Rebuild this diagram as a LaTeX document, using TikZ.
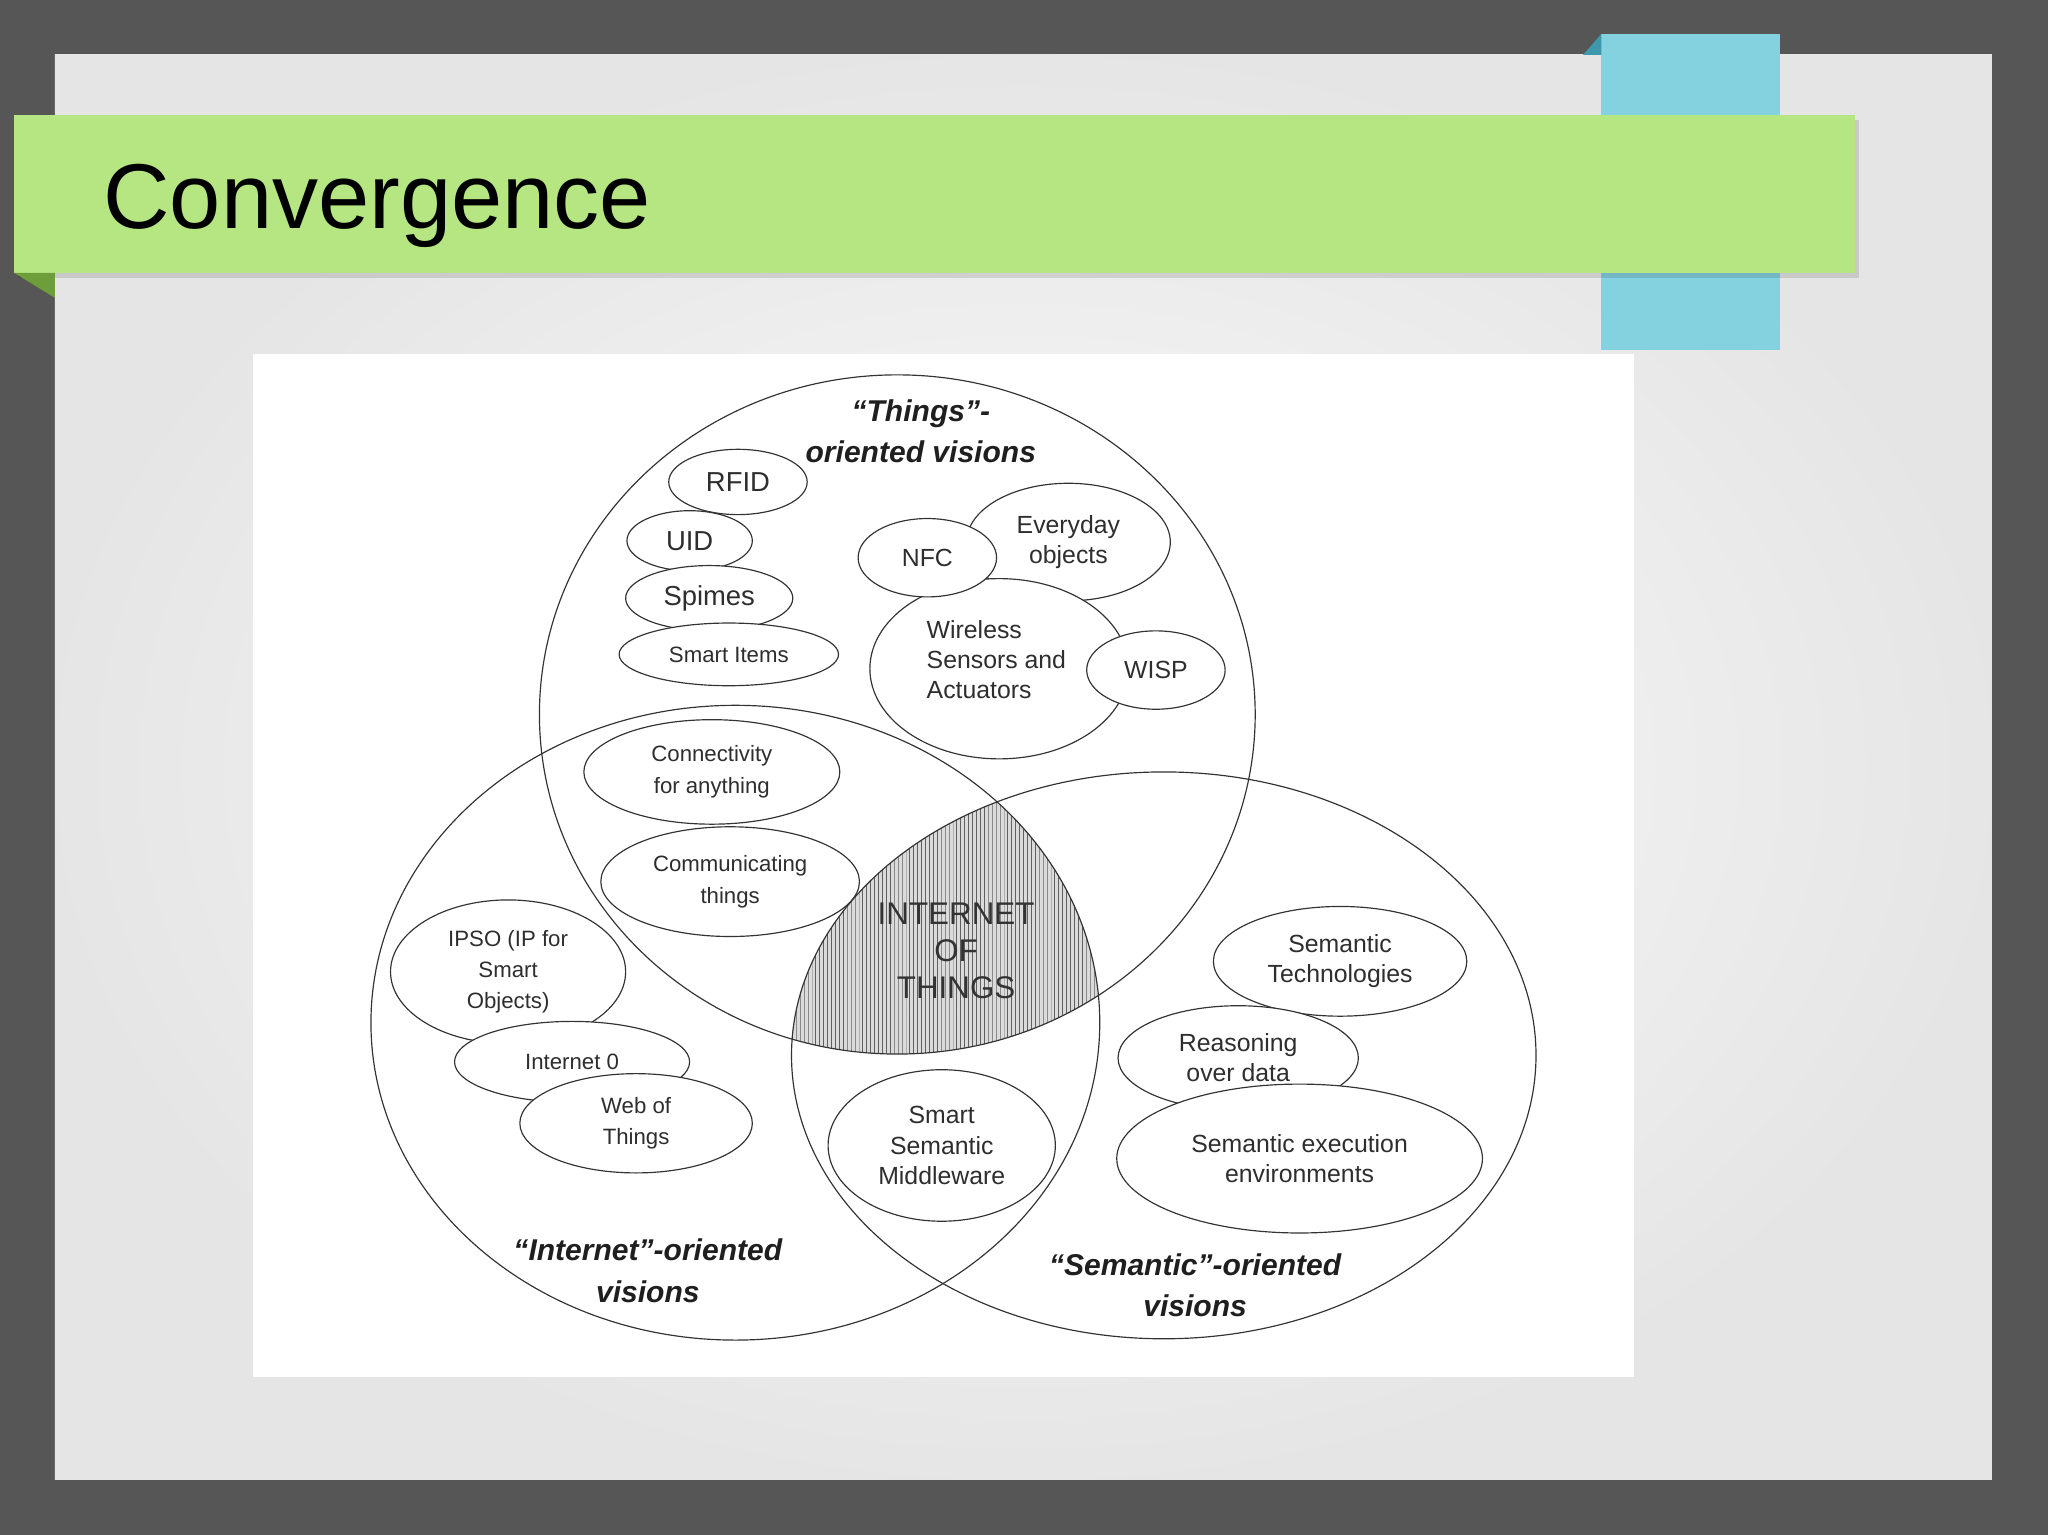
\documentclass[tikz,border=0pt]{standalone}
\usepackage{fontspec}
\setmainfont{Liberation Sans}
\usetikzlibrary{shapes.geometric,patterns}
\definecolor{bgdark}{HTML}{565656}
\definecolor{bannergreen}{HTML}{B5E681}
\definecolor{tabblue}{HTML}{84D1E0}
\definecolor{foldgreen}{HTML}{6E9E3A}
\definecolor{foldblue}{HTML}{3C98AA}
\definecolor{lineink}{HTML}{333333}
\definecolor{textink}{HTML}{2E2E2E}
\begin{document}
\begin{tikzpicture}[x=1pt,y=-1pt,
  sub/.style={ellipse,draw=lineink,fill=white,line width=0.9pt,inner sep=0pt,align=center,text=textink},
  big/.style={draw=lineink,line width=0.9pt},
  head/.style={align=center,text=black!88,font=\fontsize{23}{31}\selectfont\bfseries\itshape},
  fa/.style={font=\fontsize{21}{23}\selectfont},
  fb/.style={font=\fontsize{19}{23}\selectfont},
  fc/.style={font=\fontsize{17}{24}\selectfont}
]
\useasboundingbox (0,0) rectangle (1568,1175);
% slide background
\fill[bgdark] (0,0) rectangle (1568,1175);
\shade[inner color=gray!2, outer color=gray!20] (42,42) rectangle (1525,1133);
\fill[tabblue] (1226,26) rectangle (1363,268);
\fill[foldblue] (1212,42) -- (1226,26) -- (1226,42) -- cycle;
\fill[black,opacity=0.12] (14,92) rectangle (1423,213);
\fill[bannergreen] (11,88) rectangle (1420,209);
\fill[foldgreen] (11,209) -- (42,209) -- (42,228) -- cycle;
\node[anchor=base west,inner sep=0pt,font=\fontsize{70.5}{80}\selectfont] (title) at (79,175) {Convergence};
\fill[white] (194,271) rectangle (1251,1054);

% triple intersection
\begin{scope}
  \clip (687,547) ellipse [x radius=274pt,y radius=260pt];
  \clip (563,783) ellipse [x radius=279pt,y radius=243pt];
  \fill[gray!28] (891,808) ellipse [x radius=285pt,y radius=217pt];
  \fill[pattern=vertical lines,pattern color=gray!75!black] (891,808) ellipse [x radius=285pt,y radius=217pt];
\end{scope}
\node[align=center,text=black!80,font=\fontsize{24}{28}\selectfont] (iot) at (732,728) {INTERNET\\OF\\THINGS};

% big visions
\draw[big] (687,547) ellipse [x radius=274pt,y radius=260pt];
\draw[big] (563,783) ellipse [x radius=279pt,y radius=243pt];
\draw[big] (891,808) ellipse [x radius=285pt,y radius=217pt];

\node[head] (thingshead) at (705,330) {“Things”-\\oriented visions};
\node[head,font=\fontsize{23}{32}\selectfont\bfseries\itshape] (nethead) at (496,973) {“Internet”-oriented\\visions};
\node[head,font=\fontsize{23}{32}\selectfont\bfseries\itshape] (semhead) at (915,984) {“Semantic”-oriented\\visions};

% things-oriented
\node[sub,fa,minimum width=106pt,minimum height=50pt] (rfid) at (565,369) {RFID};
\node[sub,fa,minimum width=96pt,minimum height=46pt] (uid) at (528,414) {UID};
\node[sub,fa,minimum width=128pt,minimum height=50pt] (spimes) at (543,458) {Spimes};
\node[sub,fc,minimum width=168pt,minimum height=48pt] (smartitems) at (558,501) {Smart Items};
\node[sub,fb,minimum width=156pt,minimum height=90pt] (everyday) at (818,415) {Everyday\\objects};
\node[sub,minimum width=198pt,minimum height=138pt] (wsn) at (765,512) {};
\node[fb,align=left,anchor=west,text=textink] (wsntext) at (706,505) {Wireless\\Sensors and\\Actuators};
\node[sub,fb,minimum width=106pt,minimum height=60pt] (nfc) at (710,427) {NFC};
\node[sub,fb,minimum width=106pt,minimum height=60pt] (wisp) at (885,513) {WISP};

% internet-oriented
\node[sub,fc,minimum width=196pt,minimum height=80pt] (conn) at (545,591) {Connectivity\\for anything};
\node[sub,fc,minimum width=198pt,minimum height=84pt] (comm) at (559,675) {Communicating\\things};
\node[sub,fc,minimum width=180pt,minimum height=110pt] (ipso) at (389,744) {IPSO (IP for\\Smart\\Objects)};
\node[sub,fc,minimum width=180pt,minimum height=62pt] (inet0) at (438,813) {Internet 0};
\node[sub,fc,minimum width=178pt,minimum height=76pt] (wot) at (487,860) {Web of\\Things};

% semantic-oriented
\node[sub,fb,minimum width=174pt,minimum height=116pt] (ssm) at (721,877) {Smart\\Semantic\\Middleware};
\node[sub,fb,minimum width=194pt,minimum height=84pt] (semtech) at (1026,736) {Semantic\\Technologies};
\node[sub,fb,minimum width=184pt,minimum height=80pt] (reason) at (948,810) {Reasoning\\over data};
\node[sub,fb,minimum width=280pt,minimum height=114pt] (semexec) at (995,887) {Semantic execution\\environments};
\end{tikzpicture}
\end{document}
